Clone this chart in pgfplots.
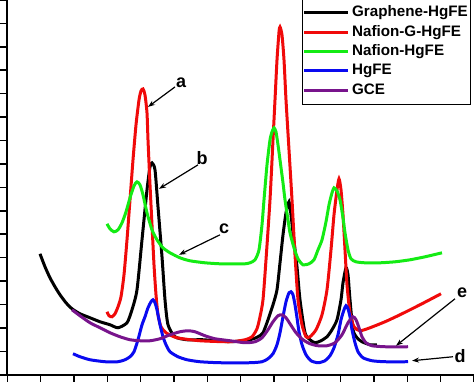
\documentclass[border=0pt]{standalone}
\usepackage{pgfplots}
\pgfplotsset{compat=1.18}
\usetikzlibrary{arrows.meta}
\usepackage{fontspec}
\setmainfont{Liberation Sans}
\definecolor{cred}{RGB}{240,10,10}
\definecolor{cgreen}{RGB}{20,235,20}
\definecolor{cblue}{RGB}{10,10,240}
\definecolor{cpurple}{RGB}{120,20,140}
\begin{document}
\begin{tikzpicture}
\begin{axis}[
  scale only axis, width=233.5pt, height=187.5pt,
  xmin=7.333, xmax=474, ymin=0, ymax=375,
  axis x line*=bottom, axis y line*=left,
  axis line style={line width=1pt, -},
  xtick={7.333,40.667,...,470}, ytick={0,23.4375,...,376},
  xticklabels={}, yticklabels={},
  tick align=outside, major tick length=3.5pt,
  tick style={line width=0.8pt, black},
  clip=false,
  every axis plot/.append style={line width=1.5pt, smooth, tension=0.4, mark=none},
  legend style={at={(axis cs:302,377)}, anchor=north west, draw=black, line width=0.7pt, fill=white,
    font=\fontsize{7.6}{8}\selectfont\bfseries, inner xsep=0pt, inner ysep=2.2pt, row sep=0pt,
    nodes={text height=5.8pt, text depth=1.8pt, inner ysep=1.05pt, inner xsep=1.25pt}},
  legend cell align=left,
  legend image code/.code={\draw[#1] (0pt,0pt) -- (22pt,0pt);},
]
% Graphene-HgFE
\addplot[black] coordinates {(40,121) (45,108) (50,97) (55,88) (60,80) (66,72) (72,66) (80,61) (90,57) (100,53) (110,50) (118,47) (127,52) (132,65) (137,85) (142,135) (147,185) (150,208) (152,212) (155,205) (158,168) (162,118) (165,75) (168,50) (175,38) (187,35) (203,35) (230,33) (250,35) (258,38) (263,42) (268,55) (273,70) (277,85) (280,112) (283,140) (286,162) (289,173) (291,160) (293,142) (297,108) (300,75) (305,42) (310,35) (315,32) (321,34) (327,38) (332,45) (337,55) (341,75) (343,92) (346,107) (348,100) (350,75) (353,45) (357,37) (362,33) (370,30) (377,30)};
\addlegendentry{Graphene-HgFE}
% Nafion-G-HgFE
\addplot[cred] coordinates {(107,63) (109,59) (112,58) (115,61) (118,68) (121,78) (124,100) (127,135) (130,175) (133,215) (136,250) (139,275) (141,284) (143,286) (145,280) (147,262) (148,235) (150,190) (152,150) (154,110) (156,80) (158,60) (161,48) (166,42) (177,37) (200,34) (230,33) (245,35) (252,38) (257,46) (260,58) (263,75) (266,115) (270,175) (273,235) (275,275) (277,315) (279,343) (280,348) (282,340) (284,315) (286,275) (289,225) (292,175) (295,120) (298,75) (302,50) (306,38) (310,38) (316,45) (322,60) (327,85) (331,125) (334,160) (337,185) (339,196) (341,185) (343,160) (345,125) (347,90) (350,62) (354,48) (360,44) (370,47) (385,53) (400,60) (420,70) (441,81)};
\addlegendentry{Nafion-G-HgFE}
% Nafion-HgFE
\addplot[cgreen] coordinates {(107,151) (110,146) (114,143) (118,145) (122,152) (126,163) (130,177) (134,189) (137,193) (140,190) (143,180) (147,162) (152,145) (157,135) (163,127) (170,122) (180,117) (190,114) (205,112) (220,111) (235,111) (245,111) (250,112) (255,115) (259,125) (262,150) (264,175) (267,210) (270,235) (272,243) (274,247) (276,243) (278,230) (280,215) (283,192) (285,175) (288,155) (290,142) (294,127) (298,116) (303,110) (309,111) (314,115) (318,125) (322,135) (326,153) (329,170) (332,182) (334,187) (337,184) (340,175) (343,157) (345,142) (348,125) (351,116) (356,113) (365,112) (380,112) (395,113) (410,115) (425,118) (442,122)};
\addlegendentry{Nafion-HgFE}
% HgFE
\addplot[cblue] coordinates {(73,21) (80,18) (90,15) (105,13) (118,13) (125,15) (130,18) (134,23) (138,35) (142,50) (145,58) (148,67) (151,73) (153,75) (155,72) (157,65) (160,50) (163,38) (166,30) (170,23) (178,18) (187,15) (200,13) (220,12) (250,12) (262,13) (268,16) (273,21) (277,30) (280,42) (283,58) (286,73) (289,82) (291,83) (293,80) (295,70) (297,57) (299,43) (302,30) (306,20) (311,14) (318,12) (325,14) (330,19) (334,27) (338,40) (341,55) (344,65) (346,69) (348,66) (350,58) (352,45) (355,32) (358,23) (363,17) (372,14) (385,13) (408,13)};
\addlegendentry{HgFE}
% GCE
\addplot[cpurple] coordinates {(72,65) (80,59) (90,52) (100,47) (110,42) (120,38) (130,35) (140,34) (150,34) (160,36) (170,40) (180,43) (188,44) (195,43) (205,39) (215,36) (230,34) (245,32) (255,33) (262,37) (268,45) (273,53) (278,59) (282,60) (286,57) (290,51) (296,42) (303,35) (310,31) (318,29) (327,29) (335,32) (342,40) (348,52) (353,58) (356,55) (359,47) (362,38) (366,32) (372,29) (385,28) (408,28)};
\addlegendentry{GCE}
% annotations
\draw[line width=0.6pt, -{Stealth[length=3.5pt,width=2.5pt]}] (axis cs:175,288) -- (axis cs:148,268);
\draw[line width=0.6pt, -{Stealth[length=3.5pt,width=2.5pt]}] (axis cs:198,210) -- (axis cs:159,186);
\draw[line width=0.6pt, -{Stealth[length=3.5pt,width=2.5pt]}] (axis cs:220,140) -- (axis cs:179,120);
\draw[line width=0.6pt, -{Stealth[length=3.5pt,width=2.5pt]}] (axis cs:455,76) -- (axis cs:396,29);
\draw[line width=0.6pt, -{Stealth[length=3.5pt,width=2.5pt]}] (axis cs:453,18) -- (axis cs:412,14);
\node[font=\fontsize{9}{10}\selectfont\bfseries] at (axis cs:181,292) {a};
\node[font=\fontsize{9}{10}\selectfont\bfseries] at (axis cs:202,217) {b};
\node[font=\fontsize{9}{10}\selectfont\bfseries] at (axis cs:224,146) {c};
\node[font=\fontsize{9}{10}\selectfont\bfseries] at (axis cs:462,82) {e};
\node[font=\fontsize{9}{10}\selectfont\bfseries] at (axis cs:460,19) {d};
\coordinate (bbl) at (axis cs:0,-8);
\coordinate (btr) at (axis cs:474,375);
\end{axis}
\pgfresetboundingbox
\useasboundingbox (bbl) rectangle (btr);
\end{tikzpicture}
\end{document}
